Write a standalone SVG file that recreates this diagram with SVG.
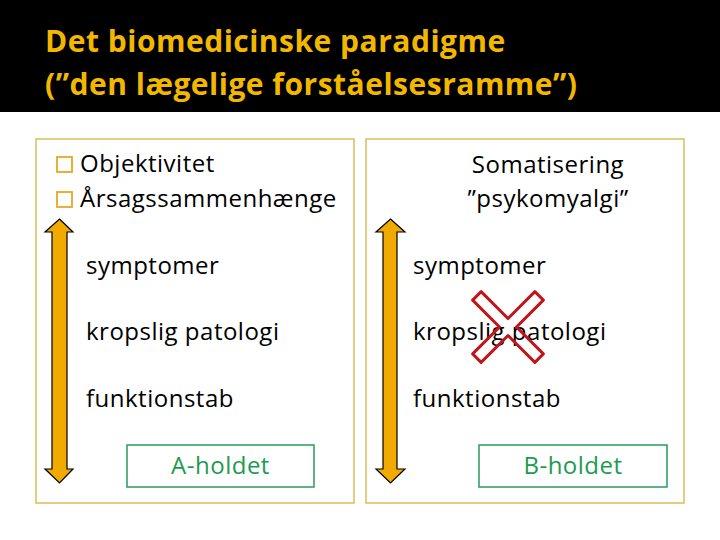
<svg xmlns="http://www.w3.org/2000/svg" width="720" height="540" viewBox="0 0 720 540">
<style>
.title{font-family:"Open Sans","Liberation Sans",sans-serif;font-weight:bold;font-size:30px;letter-spacing:0.5px;fill:#F2B800}
.t{font-family:"Open Sans","Liberation Sans",sans-serif;font-size:24px;letter-spacing:0.5px;fill:#000}
.g{font-family:"Open Sans","Liberation Sans",sans-serif;font-size:24px;letter-spacing:0.5px;fill:#1E9A50}
.frame{fill:#fff;stroke:#D8BE5A;stroke-width:1.5}
.hold{fill:#fff;stroke:#2A9A5A;stroke-width:1.5}
.arrow{fill:#F0AA00;stroke:#000;stroke-width:1.2;stroke-linejoin:miter}
.bul{fill:none;stroke:#E8A820;stroke-width:1.8}
</style>
<rect x="0" y="0" width="720" height="540" fill="#fff"/>
<rect x="0" y="0" width="720" height="112" fill="#000"/>
<text class="title" x="45" y="52">Det biomedicinske paradigme</text>
<text class="title" x="45" y="95">(”den lægelige forståelsesramme”)</text>

<g id="left-frame">
<rect class="frame" x="36" y="139" width="318" height="364"/>
<rect class="bul" x="57" y="157" width="15" height="15"/>
<text class="t" x="80" y="172">Objektivitet</text>
<rect class="bul" x="57" y="192" width="15" height="15"/>
<text class="t" x="80" y="207">Årsagssammenhænge</text>
</g>
<g id="right-frame">
<rect class="frame" x="366" y="139" width="318" height="364"/>
<text class="t" x="548" y="173" text-anchor="middle">Somatisering</text>
<text class="t" x="548" y="207" text-anchor="middle">”psykomyalgi”</text>
</g>

<g id="connectors">
<polygon class="arrow" points="59.5,219 73,232 67,232 67,469 73,469 59.5,483 45,469 52,469 52,232 45,232"/>
<polygon class="arrow" points="390.5,219 405,232 397,232 397,469 405,469 390.5,483 376,469 383,469 383,232 376,232"/>
</g>

<g id="left-levels">
<text class="t" x="86" y="274">symptomer</text>
<text class="t" x="86" y="340">kropslig patologi</text>
<text class="t" x="86" y="407">funktionstab</text>
</g>
<g id="right-levels">
<text class="t" x="413" y="274">symptomer</text>
<text class="t" x="413" y="340">kropslig patologi</text>
<text class="t" x="413" y="407">funktionstab</text>
</g>

<g id="cross" transform="translate(508,327) rotate(45)">
<polygon points="-6,-44 6,-44 6,-6 44,-6 44,6 6,6 6,44 -6,44 -6,6 -44,6 -44,-6 -6,-6" fill="none" stroke="#C0151B" stroke-width="3" stroke-linejoin="round"/>
</g>

<g id="a-holdet">
<rect class="hold" x="127" y="445" width="187" height="42"/>
<text class="g" x="220.5" y="474" text-anchor="middle">A-holdet</text>
</g>
<g id="b-holdet">
<rect class="hold" x="479" y="445" width="188" height="42"/>
<text class="g" x="573" y="474" text-anchor="middle">B-holdet</text>
</g>
</svg>
